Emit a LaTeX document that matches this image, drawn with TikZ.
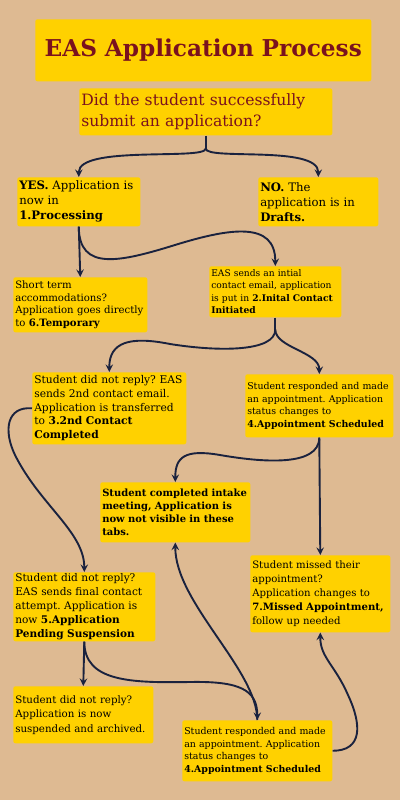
\documentclass[tikz,border=0pt]{standalone}
\usepackage{fontspec}
\setmainfont{DejaVu Serif}
\usepackage{tikz}
\usetikzlibrary{arrows,calc,positioning}

\definecolor{cork}{RGB}{222,186,146}
\definecolor{notepad}{RGB}{255,209,0}
\definecolor{maroon}{RGB}{122,18,30}
\definecolor{ink}{RGB}{26,34,62}

\newcommand{\cardfont}[2]{\fontsize{#1pt}{#2pt}\selectfont}
\frenchspacing

\tikzset{
	card/.style 2 args={anchor=north west, fill=notepad, rounded corners=1.5pt, inner xsep=0.05cm, inner ysep=0pt, align=left, text width=#1*0.025cm-0.1cm, minimum height=#2*0.025cm},
	link/.style={draw=ink, line width=1.35pt, >=stealth}
}

\begin{document}
\begin{tikzpicture}[x=0.025cm, y=-0.025cm]
						\fill[cork] (0,0) rectangle (400,800);
						
						\node[card={336}{62}, align=center, font=\bfseries\cardfont{16.5}{20}, text=maroon] (title) at (35,19) {EAS Application Process};
						\node[card={253}{47}, font=\cardfont{11.1}{15}, text=maroon] (q) at (79,88) {Did the student successfully\\submit an application?};
						
						\node[card={123}{49}, font=\cardfont{8.3}{10.7}] (yes) at (17,177) {\textbf{YES.} Application is\\now in\\\textbf{1.Processing}};
						\node[card={120}{49}, font=\cardfont{8.3}{10.7}] (no) at (258,177) {\textbf{NO.} The\\application is in\\\textbf{Drafts.}};
						
						\node[card={134}{55}, font=\cardfont{7.2}{9.2}] (temp) at (13,277) {Short term\\accommodations?\\Application goes directly\\to \textbf{6.Temporary}};
						\node[card={132}{51}, font=\cardfont{6.5}{8.9}] (initial) at (209,266) {EAS sends an intial\\contact email, application\\is put in \textbf{2.Inital Contact}\\\textbf{Initiated}};
						
						\node[card={154}{72}, font=\cardfont{7.6}{9.7}] (second) at (32,372) {Student did not reply? EAS\\sends 2nd contact email.\\Application is transferred\\to \textbf{3.2nd Contact}\\\textbf{Completed}};
						\node[card={148}{63}, font=\cardfont{6.7}{9}] (sched) at (245,374) {Student responded and made\\an appointment. Application\\status changes to\\\textbf{4.Appointment Scheduled}};
						
						\node[card={150}{60}, font=\bfseries\cardfont{7.1}{9.2}] (intake) at (100,482) {Student completed intake\\meeting, Application is\\now not visible in these\\tabs.};
						\node[card={140}{77}, font=\cardfont{7.2}{10}] (missed) at (250,555) {Student missed their\\appointment?\\Application changes to\\\textbf{7.Missed Appointment,}\\follow up needed};
						
						\node[card={142}{69}, font=\cardfont{7.5}{10}] (final) at (13,572) {Student did not reply?\\EAS sends final contact\\attempt. Application is\\now \textbf{5.Application}\\\textbf{Pending Suspension}};
						\node[card={140}{57}, font=\cardfont{7.3}{10.3}] (archived) at (13,686) {Student did not reply?\\Application is now\\suspended and archived.};
						\node[card={150}{61}, font=\cardfont{6.7}{8.9}] (sched2) at (182,720) {Student responded and made\\an appointment. Application\\status changes to\\\textbf{4.Appointment Scheduled}};
						
						% submitted or not
						\draw[link] (q.south) -- +(0,13) coordinate (qs);
						\draw[link, arrows=->] (qs) .. controls +(0,12) and +(0,-32) .. (yes.north);
						\draw[link, arrows=->] (qs) .. controls +(0,12) and +(0,-32) .. (no.north);
						
						\draw[link, arrows=->] (yes.south) -- (temp.north);
						\draw[link, arrows=->] (yes.south) .. controls +(0,45) and (120,262) .. (175,245) .. controls (230,228) and +(0,-45) .. (initial.north);
						
						% first contact
						\draw[link] (initial.south) -- +(0,12) coordinate (is);
						\draw[link, arrows=->] (is) .. controls +(0,22) and (220,352) .. (170,344) .. controls (130,336) and +(0,-30) .. (second.north);
						\draw[link, arrows=->] (is) .. controls +(0,18) and +(0,-22) .. (sched.north);
						
						\draw[link, arrows=->] (second.west) .. controls +(-25,-2) and (3,430) .. (15,455) .. controls (40,505) and +(0,-40) .. (final.north);
						\draw[link, arrows=->] (sched.south) .. controls +(0,30) and (260,462) .. (220,455) .. controls (185,449) and +(0,-25) .. (intake.north);
						\draw[link, arrows=->] (sched.south) -- (missed.north);
						
						% last attempt
						\draw[link, arrows=->] (final.south) -- (archived.north);
						\draw[link, arrows=->] (final.south) .. controls +(0,40) and (130,683) .. (190,682) .. controls (240,681) and +(0,-30) .. (sched2.north);
						\draw[link, arrows=->] (sched2.north) .. controls +(0,-50) and +(0,60) .. (intake.south);
						\draw[link, arrows=->] (sched2.east) .. controls +(30,0) and (362,725) .. (348,695) .. controls (335,665) and +(0,25) .. (missed.south);
					\end{tikzpicture}
\end{document}
